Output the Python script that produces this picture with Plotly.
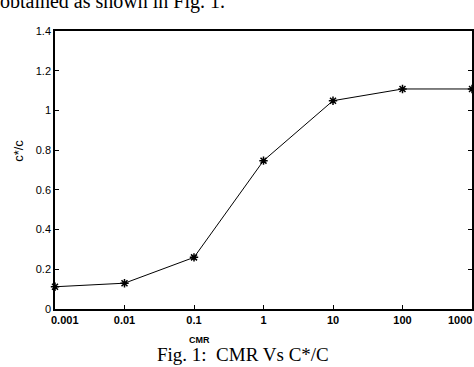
import plotly.graph_objects as go

cmr = [0.001, 0.01, 0.1, 1, 10, 100, 1000]
ratio = [0.112, 0.13, 0.26, 0.747, 1.049, 1.108, 1.108]
x_ticks = [0.001, 0.01, 0.1, 1, 10, 100, 1000]
x_ticktext = ["0.001", "0.01", "0.1", "1", "10", "100", "1000"]
y_ticks = [0, 0.2, 0.4, 0.6, 0.8, 1, 1.2, 1.4]
y_ticktext = ["0", "0.2", "0.4", "0.6", "0.8", "1", "1.2", "1.4"]

# the end labels sit just inside the frame, as in the reference
edge_labels = {0: ("left", -6), 6: ("right", 2)}
axis_ticktext = ["" if i in edge_labels else t for i, t in enumerate(x_ticktext)]

fig = go.Figure()
fig.add_trace(go.Scatter(
    x=cmr, y=ratio, mode="lines+markers",
    line=dict(color="black", width=1),
    marker=dict(symbol="asterisk", size=7, color="black",
                line=dict(color="black", width=1.5)),
    showlegend=False, cliponaxis=False,
))

fig.update_layout(
    width=474, height=367,
    margin=dict(l=55, r=2, t=31, b=58, autoexpand=False),
    paper_bgcolor="white", plot_bgcolor="white",
    font=dict(family="Liberation Sans, Arial, sans-serif", color="black", size=11),
)
fig.update_xaxes(
    type="log", range=[-3, 3], automargin=False,
    tickvals=x_ticks, ticktext=axis_ticktext,
    showgrid=False, zeroline=False,
    showline=True, linecolor="black", linewidth=1.5, mirror=True,
    ticks="inside", ticklen=4, tickcolor="black",
    ticklabeloverflow="allow",
    tickfont=dict(size=11, family="Liberation Sans, Arial, sans-serif", weight="bold"),
)
fig.update_yaxes(
    range=[0, 1.4], automargin=False,
    tickvals=y_ticks, ticktext=y_ticktext,
    showgrid=False, zeroline=False,
    showline=True, linecolor="black", linewidth=1.5, mirror="ticks",
    ticks="inside", ticklen=4, tickcolor="black",
    tickfont=dict(size=11, family="Liberation Sans, Arial, sans-serif"),
)

for i, (anchor, shift) in edge_labels.items():
    fig.add_annotation(text=x_ticktext[i], xref="x", yref="paper", x=[-3, -2, -1, 0, 1, 2, 3][i],
                       y=0, yshift=-11, xshift=shift, xanchor=anchor, yanchor="middle",
                       showarrow=False,
                       font=dict(size=11, family="Liberation Sans, Arial, sans-serif", weight="bold"))

fig.add_annotation(text="c*/c", xref="paper", yref="paper", x=-0.088, y=0.57,
                   xanchor="center", yanchor="middle",
                   textangle=-90, showarrow=False,
                   font=dict(size=13, family="Liberation Sans, Arial, sans-serif"))
fig.add_annotation(text="CMR", xref="paper", yref="paper", x=0.316, y=-0.111,
                   showarrow=False, yanchor="middle",
                   font=dict(size=9, family="Liberation Sans, Arial, sans-serif", weight="bold"))
fig.add_annotation(text="Fig. 1:  CMR Vs C*/C", xref="paper", yref="paper",
                   x=0.451, y=-0.118, xanchor="center", yanchor="top", showarrow=False,
                   font=dict(size=19, family="Liberation Serif, Times New Roman, serif"))
fig.add_annotation(text="obtained as shown in Fig. 1.", xref="paper", yref="paper",
                   x=-0.136, y=1.058, xanchor="left", yanchor="bottom", showarrow=False,
                   font=dict(size=20, family="Liberation Serif, Times New Roman, serif"))

fig.write_html("out.html", config={"displayModeBar": False},
               post_script="document.body.style.margin='0';document.body.style.overflow='hidden';")
